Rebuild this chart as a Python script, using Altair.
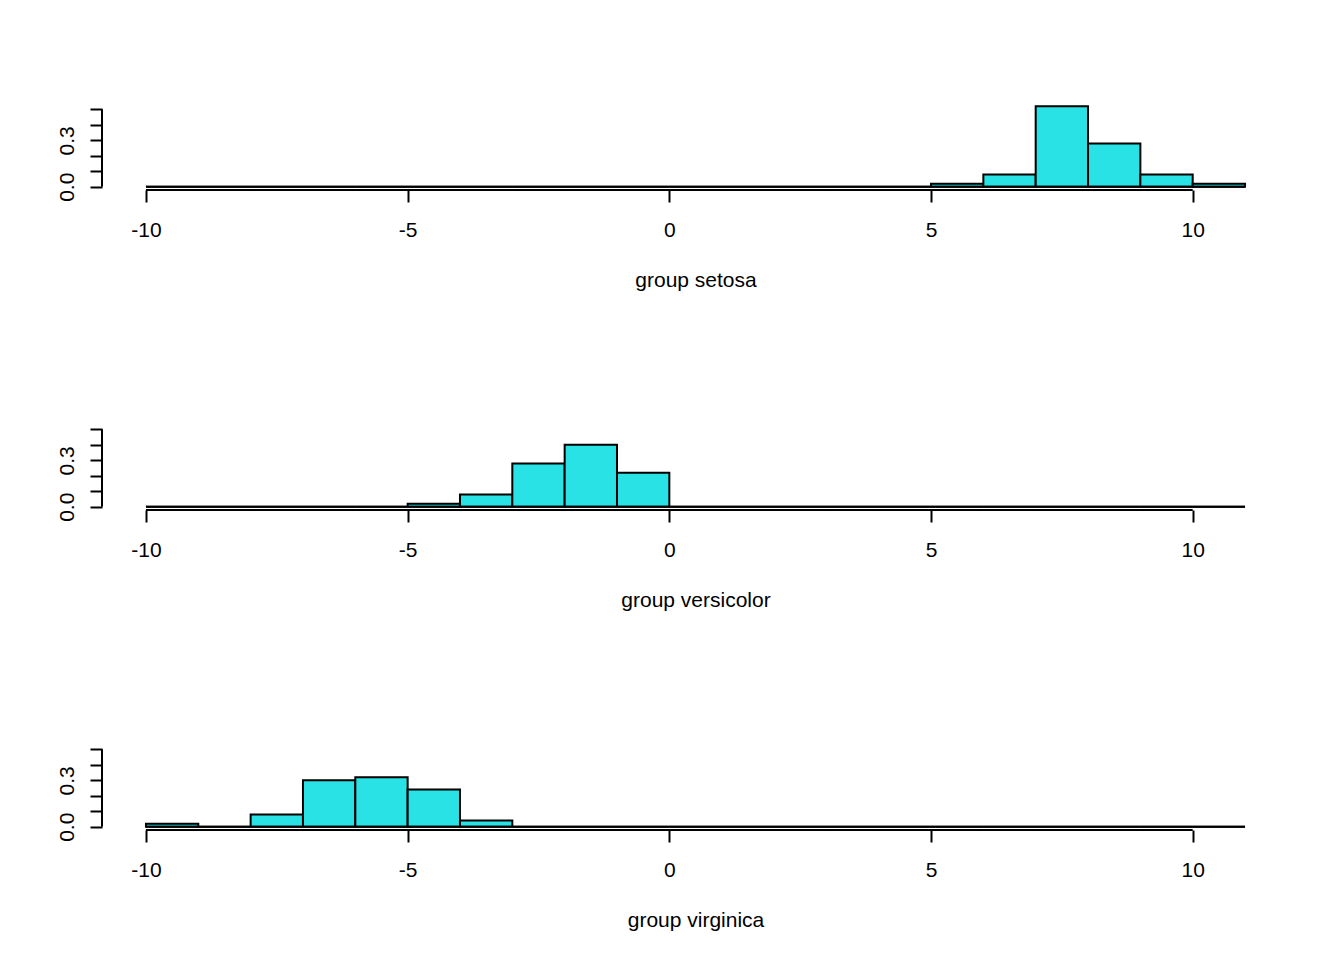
import altair as alt
import pandas as pd

# histogram bins (common breaks, width 1)
bin_start = [-10, -9, -8, -7, -6, -5, -4, -3, -2, -1, 0, 1, 2, 3, 4, 5, 6, 7, 8, 9, 10]
bin_end = [-9, -8, -7, -6, -5, -4, -3, -2, -1, 0, 1, 2, 3, 4, 5, 6, 7, 8, 9, 10, 11]

groups = ["setosa", "versicolor", "virginica"]
dens_setosa = [0, 0, 0, 0, 0, 0, 0, 0, 0, 0, 0, 0, 0, 0, 0, 0.02, 0.08, 0.52, 0.28, 0.08, 0.02]
dens_versicolor = [0, 0, 0, 0, 0, 0.02, 0.08, 0.28, 0.40, 0.22, 0, 0, 0, 0, 0, 0, 0, 0, 0, 0, 0]
dens_virginica = [0.02, 0, 0.08, 0.30, 0.32, 0.24, 0.04, 0, 0, 0, 0, 0, 0, 0, 0, 0, 0, 0, 0, 0, 0]

x_ticks = [-10, -5, 0, 5, 10]
y_ticks = [0.0, 0.1, 0.2, 0.3, 0.4, 0.5]
y_labels_shown = [0.0, 0.3]

XMIN, XMAX = -10.84, 11.84
YMIN, YMAX = -0.0208, 0.5408
W, H = 1187, 87

FILL = "#28E2E5"
LW = 2
FS = 21


def panel(name, dens):
    df = pd.DataFrame({"start": bin_start, "end": bin_end, "density": dens})
    xs = alt.Scale(domain=[XMIN, XMAX], nice=False, zero=False)
    ys = alt.Scale(domain=[YMIN, YMAX], nice=False, zero=False)
    shown = " || ".join(f"datum.value == {v}" for v in y_labels_shown)
    bars = alt.Chart(df).mark_rect(fill=FILL, stroke="black", strokeWidth=LW).encode(
        x=alt.X("start:Q", scale=xs,
                axis=alt.Axis(values=x_ticks, tickCount=20, domain=False, grid=False,
                              tickSize=12, tickWidth=LW, tickColor="black",
                              labelExpr="datum.value + ''",
                              labelFontSize=FS, labelColor="black", labelPadding=17,
                              labelFlush=False, labelOverlap=False,
                              title=f"group {name}", titleFontSize=FS,
                              titleFontWeight="normal", titleColor="black",
                              titlePadding=29)),
        x2="end:Q",
        y=alt.Y("density:Q", scale=ys,
                axis=alt.Axis(values=y_ticks, tickCount=20, domain=False, grid=False,
                              tickSize=12, tickWidth=LW, tickColor="black",
                              labelFontSize=FS, labelColor="black", labelAngle=270,
                              labelAlign="center", labelBaseline="alphabetic",
                              labelPadding=17, labelFlush=False, labelOverlap=False,
                              labelExpr=f"({shown}) ? format(datum.value, '.1f') : ''",
                              title=None)),
        y2=alt.datum(0),
    )
    base = alt.Chart(df).mark_rule(color="black", strokeWidth=LW).encode(
        x="min(start):Q", x2="max(end):Q", y=alt.datum(0)
    )
    xline = alt.Chart(pd.DataFrame({"a": [min(x_ticks)], "b": [max(x_ticks)]})).mark_rule(
        color="black", strokeWidth=LW).encode(x="a:Q", x2="b:Q", y=alt.datum(YMIN))
    yline = alt.Chart(pd.DataFrame({"a": [min(y_ticks)], "b": [max(y_ticks)]})).mark_rule(
        color="black", strokeWidth=LW).encode(y="a:Q", y2="b:Q", x=alt.datum(XMIN))
    return alt.layer(bars, base, xline, yline).properties(width=W, height=H)


chart = alt.vconcat(
    panel("setosa", dens_setosa),
    panel("versicolor", dens_versicolor),
    panel("virginica", dens_virginica),
    spacing=133,
).properties(
    padding={"left": 48, "top": 95, "right": 5, "bottom": 5}
).configure(font="Liberation Sans").configure_view(stroke=None)

chart.save("out.html", embed_options={"renderer": "svg", "actions": False})
